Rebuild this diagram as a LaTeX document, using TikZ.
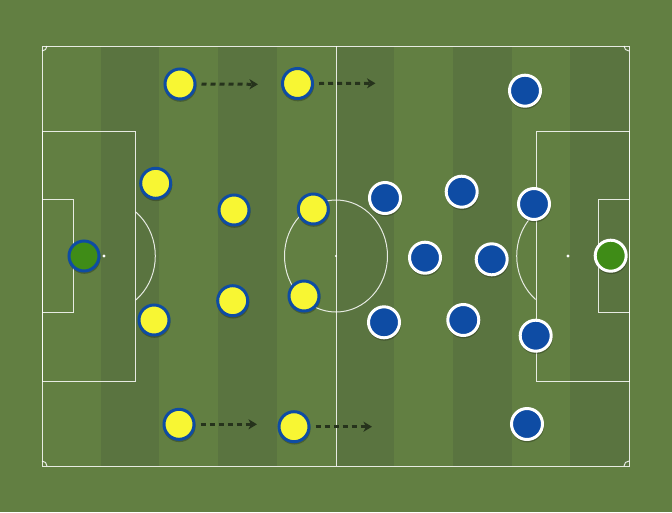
\documentclass[tikz,border=0pt]{standalone}
\usetikzlibrary{arrows.meta,shadows}
\definecolor{grassL}{HTML}{627F42}
\definecolor{grassD}{HTML}{5A7440}
\definecolor{yellowP}{HTML}{F8F633}
\definecolor{blueP}{HTML}{0E4CA4}
\definecolor{keeperG}{HTML}{3F8C17}
\definecolor{arrowC}{HTML}{26331C}
\begin{document}
\begin{tikzpicture}[x=1pt,y=-1pt,
  pline/.style={draw=white,draw opacity=0.85,line width=1pt},
  base/.style={circle,inner sep=0pt,minimum size=30pt,line width=3pt,
    drop shadow={shadow xshift=0.4pt,shadow yshift=-1.5pt,opacity=0.25,fill=black,shadow scale=1.08}},
  yplayer/.style={base,fill=yellowP,draw=blueP},
  bplayer/.style={base,fill=blueP,draw=white,minimum size=31pt},
  ykeeper/.style={base,fill=keeperG,draw=blueP},
  bkeeper/.style={base,fill=keeperG,draw=white,minimum size=31pt},
  runarrow/.style={draw=arrowC,line width=3pt,dash pattern=on 5pt off 4pt,
    -{Stealth[length=8.5pt,width=10pt,inset=2.5pt]}}]
\useasboundingbox (0,0) rectangle (672,512);
\fill[grassL] (0,0) rectangle (672,512);
\foreach \i in {1,3,5,7,9}
  \fill[grassD] ({42+\i*58.7},46) rectangle ({42+(\i+1)*58.7},466);
% pitch lines
\draw[pline] (42,46) rectangle (629,466);
\draw[pline] (336,46) -- (336,466);
\draw[pline] (336,256) ellipse [x radius=51.5,y radius=56];
\fill[white] (336,256) circle (1.2pt);
% left
\draw[pline] (42,131) rectangle (135,381);
\draw[pline] (42,199.5) rectangle (73,312.5);
\fill[white] (104,256) circle (1.7pt);
\begin{scope}
  \clip (135.5,150) rectangle (200,360);
  \draw[pline] (104,256) ellipse [x radius=51.3,y radius=56];
\end{scope}
% right
\draw[pline] (629,131) rectangle (536,381);
\draw[pline] (629,199.5) rectangle (598,312.5);
\fill[white] (568,256) circle (1.7pt);
\begin{scope}
  \clip (535.5,150) rectangle (470,360);
  \draw[pline] (568,256) ellipse [x radius=51.3,y radius=56];
\end{scope}
% corner arcs
\draw[pline] (47,46) arc[start angle=0,end angle=90,x radius=5,y radius=5];
\draw[pline] (624,46) arc[start angle=180,end angle=90,x radius=5,y radius=5];
\draw[pline] (47,466) arc[start angle=0,end angle=-90,x radius=5,y radius=5];
\draw[pline] (624,466) arc[start angle=180,end angle=270,x radius=5,y radius=5];
% yellow team
\node[ykeeper] (ygk) at (84,256) {};
\node[yplayer] (y1) at (180,84) {};
\node[yplayer] (y2) at (297.5,83.5) {};
\node[yplayer] (y3) at (155.7,183.3) {};
\node[yplayer] (y4) at (234,210) {};
\node[yplayer] (y5) at (313.3,209) {};
\node[yplayer] (y6) at (232.7,300.7) {};
\node[yplayer] (y7) at (304,296) {};
\node[yplayer] (y8) at (154,320) {};
\node[yplayer] (y9) at (179,424.3) {};
\node[yplayer] (y10) at (294,426.7) {};
% blue team
\node[bkeeper] (bgk) at (610.7,255.7) {};
\node[bplayer] (b1) at (525,90.7) {};
\node[bplayer] (b2) at (385,198) {};
\node[bplayer] (b3) at (461.7,191.7) {};
\node[bplayer] (b4) at (534,204) {};
\node[bplayer] (b5) at (425,257.7) {};
\node[bplayer] (b6) at (491.7,259.3) {};
\node[bplayer] (b7) at (384,322.3) {};
\node[bplayer] (b8) at (463.3,320) {};
\node[bplayer] (b9) at (535.7,335.7) {};
\node[bplayer] (b10) at (527,424) {};
% runs
\coordinate (r1) at (258,84.3);
\coordinate (r2) at (375.5,83.3);
\coordinate (r3) at (257,424.3);
\coordinate (r4) at (372,426.7);
\draw[runarrow] ([xshift=5pt]y1.east) -- (r1);
\draw[runarrow] ([xshift=5pt]y2.east) -- (r2);
\draw[runarrow] ([xshift=5pt]y9.east) -- (r3);
\draw[runarrow] ([xshift=5pt]y10.east) -- (r4);
\end{tikzpicture}
\end{document}
